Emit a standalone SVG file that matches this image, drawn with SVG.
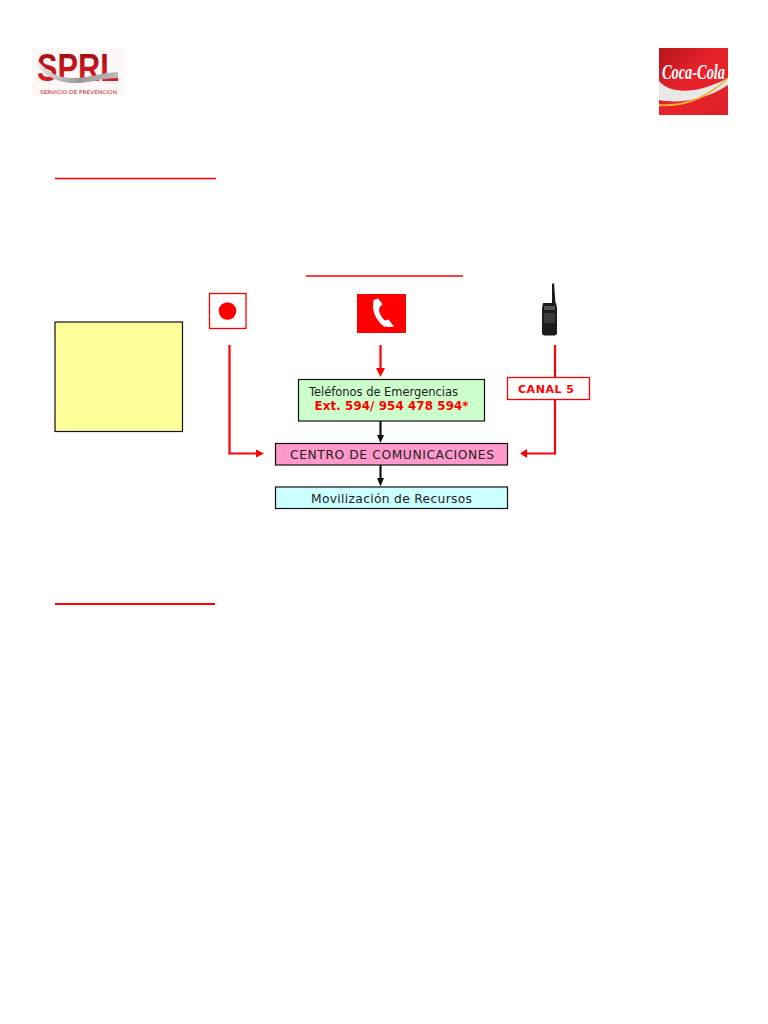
<svg xmlns="http://www.w3.org/2000/svg" width="768" height="1024" viewBox="0 0 768 1024">
<style>
text{font-family:"DejaVu Sans",Verdana,sans-serif}
.b{stroke:#111;stroke-width:1.2}
.r{fill:none;stroke:#f00;stroke-width:2.2}
.k{fill:none;stroke:#111;stroke-width:2.2}
.u{stroke:#f00;stroke-width:1.4}
.t{fill:#222}
.rt{fill:#f00;font-weight:bold}
</style>
<defs>
<linearGradient id="sw" x1="0" x2="1" y1="0" y2="0"><stop offset="0" stop-color="#e4e4e4"/><stop offset=".5" stop-color="#999"/><stop offset="1" stop-color="#bbb"/></linearGradient>
<linearGradient id="sp" x1="0" x2="0" y1="0" y2="1"><stop offset="0" stop-color="#8e0d12"/><stop offset=".5" stop-color="#c8141c"/><stop offset="1" stop-color="#e8202a"/></linearGradient>
<linearGradient id="cc" x1="0" x2="1" y1="0" y2="1"><stop offset="0" stop-color="#b5141a"/><stop offset=".45" stop-color="#e8222a"/><stop offset="1" stop-color="#de2028"/></linearGradient>
</defs>
<rect width="768" height="1024" fill="#fff"/>

<g id="logo-sprl">
<rect x="32" y="48" width="93" height="48" fill="#fdf8f6"/>
<text x="37" y="80.500" font-size="38" font-weight="bold" textLength="82" lengthAdjust="spacingAndGlyphs" style="font-family:'Liberation Sans',sans-serif" fill="url(#sp)">SPRL</text>
<path d="M39 62C48 72 58 78 72 78C90 78 100 73 118 72V78C102 78 88 84 70 83C56 82 44 74 39 68Z" fill="url(#sw)"/>
<text x="40" y="93.500" font-size="5.200" textLength="77" lengthAdjust="spacingAndGlyphs" fill="#b8242a">SERVICIO DE PREVENCIÓN</text>
</g>

<g id="logo-cocacola">
<rect x="659" y="48" width="69" height="67" fill="url(#cc)"/>
<path d="M659 81C668 92 692 97 728 78V85C705 100 680 104 659 100Z" fill="#e8e8e8"/>
<path d="M659 104C685 106 708 96 728 77V79C708 98 685 108 659 106Z" fill="#f0b030"/>
<text x="693.500" y="79" font-size="22" font-style="italic" font-weight="bold" text-anchor="middle" textLength="63" lengthAdjust="spacingAndGlyphs" style="font-family:'Liberation Serif',serif" fill="#fff">Coca-Cola</text>
</g>

<g id="rules">
<line class="u" x1="55" y1="178.500" x2="216" y2="178.500"/>
<line class="u" x1="306" y1="276" x2="463" y2="276"/>
<line class="u" x1="55" y1="604" x2="215" y2="604" style="stroke-width:1.800"/>
</g>

<g id="note"><rect class="b" x="55" y="322" width="127.500" height="109.500" fill="#ffff99"/></g>

<g id="alarm">
<rect x="209.500" y="293.500" width="36.500" height="35" fill="#fff" stroke="#f00" stroke-width="1.300"/>
<circle cx="227.500" cy="311" r="8.800" fill="#f00"/>
</g>

<g id="phone">
<rect x="357" y="294" width="49" height="39" fill="#f00"/>
<path d="M373.500 300L378 298.500L382.500 304L379.500 307.500L379 311C380 315 382 318 385 320.500L388.500 319.500L394 326.500L390 327L384 326.500C378 322 374 315 373 308Z" fill="#fff"/>
</g>

<g id="radio">
<path d="M552 284L554 283L555.500 303H552Z" fill="#1a1a1a"/>
<path d="M543 303H556L557 308V334L555 335.500H544L542 334V308Z" fill="#1c1c1c"/>
<rect x="544" y="306" width="11" height="4" fill="#555"/>
<rect x="544" y="313" width="11" height="10" fill="#3a3a3a"/>
</g>

<g id="connectors">
<path class="r" d="M229.500 345V453.500H257"/>
<path d="M256 449.500L264 453.500L256 457.500Z" fill="#f00"/>
<path class="r" d="M555 345V377M555 400V453.500H526"/>
<path d="M527 449L520 453.500L527 458Z" fill="#f00"/>
<path class="r" d="M380.500 345V369"/>
<path d="M376 368H385L380.500 377Z" fill="#f00"/>
<path class="k" d="M380.500 421V436"/>
<path d="M377 435H384L380.500 443Z" fill="#111"/>
<path class="k" d="M380.500 465V479"/>
<path d="M377 478H384L380.500 486.500Z" fill="#111"/>
</g>

<g id="telefonos">
<rect class="b" x="298.500" y="379.500" width="186" height="41.500" fill="#ccffcc"/>
<text class="t" x="309" y="396" font-size="11.500" textLength="149">Teléfonos de Emergencias</text>
<text class="rt" x="314.500" y="410" font-size="11.800" textLength="154">Ext. 594/ 954 478 594*</text>
</g>

<g id="canal">
<rect x="507.500" y="377.500" width="82" height="22" fill="#fff" stroke="#f00" stroke-width="1.300"/>
<text class="rt" x="518" y="393" font-size="11" textLength="56">CANAL 5</text>
</g>

<g id="centro">
<rect class="b" x="275.500" y="443.500" width="232" height="21.500" fill="#ff99cc"/>
<text class="t" x="290" y="459" font-size="12.300" textLength="204">CENTRO DE COMUNICACIONES</text>
</g>

<g id="movilizacion">
<rect class="b" x="275.500" y="487" width="232" height="21.500" fill="#ccffff"/>
<text class="t" x="311" y="503" font-size="12.300" textLength="161">Movilización de Recursos</text>
</g>
</svg>
